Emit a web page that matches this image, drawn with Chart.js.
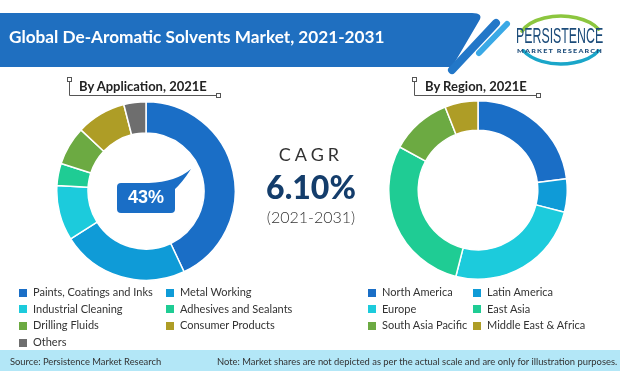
<!DOCTYPE html>
<html lang="en">
  <head>
    <meta charset="utf-8" />
    <style>
      * {
        margin: 0;
        padding: 0;
        box-sizing: border-box;
      }
      body {
        width: 620px;
        height: 371px;
        overflow: hidden;
        background: #fff;
        font-family: Lato, sans-serif;
        position: relative;
      }
      #bg {
        position: absolute;
        left: 0;
        top: 0;
      }
      .abs {
        position: absolute;
        white-space: nowrap;
      }
      .title {
        left: 9px;
        top: 26px;
        line-height: 22px;
        color: #fff;
        font-weight: 700;
        font-size: 17.2px;
      }
      .section {
        top: 78px;
        line-height: 16px;
        font-size: 13px;
        font-weight: 700;
        color: #222;
      }
      .chartBox {
        position: absolute;
        width: 180px;
        height: 180px;
      }
      .cagr {
        left: 240px;
        width: 142px;
        text-align: center;
        color: #333;
      }
      .legendItem {
        position: absolute;
        white-space: nowrap;
        font-size: 11px;
        line-height: 14px;
        color: #333;
      }
      .legendItem span {
        display: inline-block;
        width: 8px;
        height: 8px;
        margin-right: 6px;
        vertical-align: -0.5px;
      }
      .foot {
        top: 355px;
        line-height: 14px;
        font-size: 9.4px;
        color: #333;
      }
      .logo {
        color: #1c4c7a;
        transform-origin: left top;
      }
    </style>
  </head>
  <body>
    <canvas id="bg" width="620" height="371"></canvas>
    <div class="abs title">Global De-Aromatic Solvents Market, 2021-2031</div>
    <div class="abs logo" id="logo1" style="left:516px;top:24px;font-family:'Liberation Sans Narrow',sans-serif;font-size:22px;line-height:24px;">PERSISTENCE</div>
    <div class="abs logo" id="logo2" style="left:517px;top:47px;font-size:6px;line-height:8px;font-weight:900;letter-spacing:1px;">MARKET RESEARCH</div>
    <div class="abs section" style="left:79px">By Application, 2021E</div>
    <div class="abs section" style="left:425px">By Region, 2021E</div>

    <div class="chartBox" style="left:56px;top:101px"><canvas id="appChart"></canvas></div>
    <div class="chartBox" style="left:388px;top:100px"><canvas id="regionChart"></canvas></div>

    <div class="abs cagr" style="top:144px;font-size:18px;line-height:20px;letter-spacing:4px;">CAGR</div>
    <div class="abs cagr" id="cagrValue" style="top:170px;font-size:32px;line-height:34px;font-weight:900;color:#143d6b;"></div>
    <div class="abs cagr" style="top:207px;font-size:16px;line-height:20px;font-weight:300;">(2021-2031)</div>

    <div id="legends"></div>

    <div class="abs foot" style="left:10px">Source: Persistence Market Research</div>
    <div class="abs foot" style="left:217px">Note: Market shares are not depicted as per the actual scale and are only for illustration purposes.</div>

    <script src="https://cdn.jsdelivr.net/npm/chart.js/dist/chart.umd.min.js"></script>
    <script>
      // data
      const appLabels = [
        "Paints, Coatings and Inks",
        "Metal Working",
        "Industrial Cleaning",
        "Adhesives and Sealants",
        "Drilling Fluids",
        "Consumer Products",
        "Others",
      ];
      const appShares = [43, 23, 10, 4, 7, 9, 4];
      const appColors = ["#1a6ec6", "#0f9bd7", "#1ccbdc", "#1fcc94", "#6caa42", "#ae9d26", "#6e6e6e"];

      const regionLabels = [
        "North America",
        "Latin America",
        "Europe",
        "East Asia",
        "South Asia Pacific",
        "Middle East & Africa",
      ];
      const regionShares = [23, 6, 25, 29, 11, 6];
      const regionColors = ["#1a6ec6", "#0f9bd7", "#1ccbdc", "#1fcc94", "#6caa42", "#ae9d26"];

      const cagr = "6.10%";

      document.getElementById("cagrValue").textContent = cagr;

      // background: banner, stripes, logo swooshes, brackets, footer band
      const bg = document.getElementById("bg").getContext("2d");
      bg.fillStyle = "#1f6fc0";
      bg.beginPath();
      bg.moveTo(0, 13);
      bg.lineTo(472, 13);
      bg.quadraticCurveTo(484, 13, 479, 21);
      bg.lineTo(452, 67);
      bg.lineTo(0, 67);
      bg.closePath();
      bg.fill();

      bg.lineCap = "round";
      bg.strokeStyle = "#2277c8";
      bg.lineWidth = 8;
      bg.beginPath();
      bg.moveTo(496, 23);
      bg.lineTo(452, 70);
      bg.stroke();
      bg.strokeStyle = "#3aa9e6";
      bg.lineWidth = 6;
      bg.beginPath();
      bg.moveTo(507, 24);
      bg.lineTo(479, 53);
      bg.stroke();

      bg.strokeStyle = "#8cc63f";
      bg.lineWidth = 3.5;
      bg.beginPath();
      bg.ellipse(561, 40, 42, 24, 0, Math.PI * 1.12, Math.PI * 1.85);
      bg.stroke();
      bg.strokeStyle = "#1aa6c9";
      bg.beginPath();
      bg.ellipse(561, 40, 42, 24, 0, Math.PI * 0.15, Math.PI * 0.85);
      bg.stroke();

      bg.strokeStyle = "#555";
      bg.lineWidth = 1;
      bg.lineCap = "butt";
      [[70, 216], [415, 536]].forEach(([x0, x1]) => {
        bg.strokeRect(x0 - 2.5, 77.5, 4, 4);
        bg.beginPath();
        bg.moveTo(x0 - 0.5, 82);
        bg.lineTo(x0 - 0.5, 95.5);
        bg.lineTo(x1, 95.5);
        bg.stroke();
        bg.strokeRect(x1 + 0.5, 93.5, 4, 4);
      });

      bg.fillStyle = "#b3e7f7";
      bg.fillRect(0, 350, 620, 21);

      // squeeze logo word to its width
      const logo1 = document.getElementById("logo1");
      logo1.style.transform = "scaleX(" + 87 / logo1.offsetWidth + ")";
      const logo2 = document.getElementById("logo2");
      logo2.style.transform = "scaleX(" + 86 / logo2.offsetWidth + ")";

      // legends
      function buildLegend(labels, colors, cols, top) {
        const box = document.getElementById("legends");
        labels.forEach((label, i) => {
          const item = document.createElement("div");
          item.className = "legendItem";
          item.style.left = cols[i % 2] + "px";
          item.style.top = top + Math.floor(i / 2) * 16.7 + "px";
          item.innerHTML = '<span style="background:' + colors[i] + '"></span>' + label;
          box.appendChild(item);
        });
      }
      buildLegend(appLabels, appColors, [19, 166], 285);
      buildLegend(regionLabels, regionColors, [368, 473], 285);

      // 43% callout in the left donut
      const callout = {
        id: "callout",
        afterDraw(chart) {
          const ctx = chart.ctx;
          const arc = chart.getDatasetMeta(0).data[0];
          const cx = arc.x;
          const cy = arc.y;
          ctx.save();
          ctx.fillStyle = "#1a6ec6";
          ctx.beginPath();
          ctx.moveTo(cx + 3, cy - 8);
          ctx.quadraticCurveTo(cx + 30, cy - 9, cx + 45, cy - 22);
          ctx.quadraticCurveTo(cx + 36, cy - 8, cx + 28, cy - 1);
          ctx.closePath();
          ctx.fill();
          ctx.beginPath();
          ctx.roundRect(cx - 29, cy - 8, 58, 30, 4);
          ctx.fill();
          ctx.fillStyle = "#fff";
          ctx.font = "bold 18px 'Liberation Sans', Arial, sans-serif";
          ctx.textAlign = "center";
          ctx.textBaseline = "middle";
          ctx.fillText(chart.data.datasets[0].data[0] + "%", cx, cy + 7.5);
          ctx.restore();
        },
      };

      function donut(id, labels, values, colors, cutout, plugins) {
        return new Chart(document.getElementById(id), {
          type: "doughnut",
          data: {
            labels,
            datasets: [
              {
                data: values,
                backgroundColor: colors,
                borderColor: "#fff",
                borderWidth: 1.5,
              },
            ],
          },
          options: {
            responsive: true,
            maintainAspectRatio: false,
            animation: false,
            cutout,
            layout: { padding: 0 },
            plugins: {
              legend: { display: false },
              tooltip: { enabled: false },
            },
          },
          plugins,
        });
      }

      donut("appChart", appLabels, appShares, appColors, "65%", [callout]);
      donut("regionChart", regionLabels, regionShares, regionColors, "67%", []);
    </script>
  </body>
</html>
